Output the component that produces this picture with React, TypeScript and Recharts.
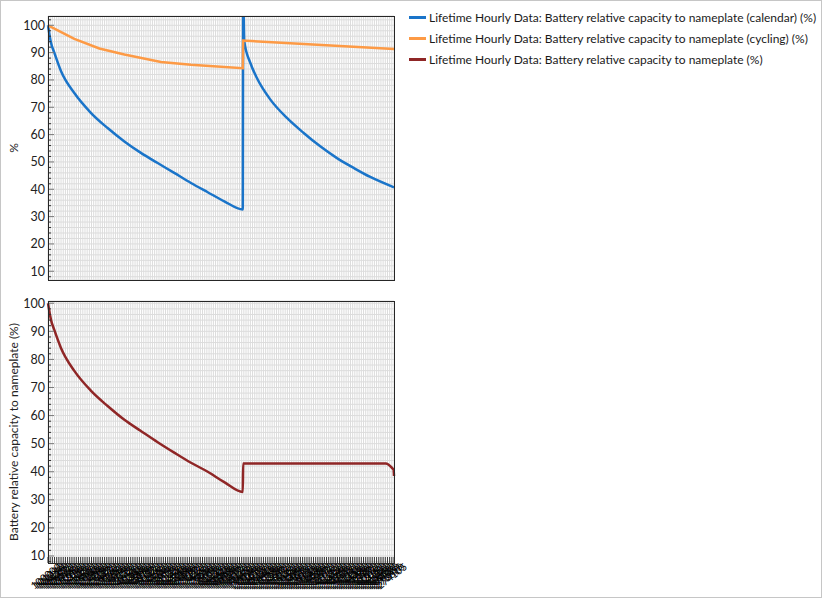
import { LineChart, Line, XAxis, YAxis, CartesianGrid, Label } from 'recharts';

// hour-step categories along the x axis (one grid line per step)
const STEPS = 160;
const hourLabels = Array.from({ length: STEPS }, (_, i) => String(100000 + i * 1095));
const hourTicks = hourLabels.map((_, i) => i);

// calendar ageing, % of nameplate
const calendarAt = [0, 1.4, 2.9, 6, 12.1, 19.8, 27.4, 35.1, 42.7, 50.4, 58, 65.7, 73.4, 81, 89.5, 89.7, 90.2, 93, 96, 102.2, 109.8, 117.5, 125.1, 132.8, 140.5, 148.1, 159];
const calendarPct = [100, 93.5, 90, 83.2, 75.2, 67.9, 62.4, 57.5, 53.3, 49.6, 46, 42.3, 38.9, 35.6, 32.6, 110, 94.1, 86.2, 80.7, 72.8, 66.1, 60.6, 55.7, 51.4, 47.8, 44.5, 40.7];

// cycling ageing, % of nameplate
const cyclingAt = [0, 12.1, 23.6, 35.1, 51.9, 65.7, 89.5, 89.7, 159];
const cyclingPct = [100, 95, 91.5, 89.3, 86.6, 85.6, 84.3, 94.4, 91.3];

// combined relative capacity, % of nameplate
const totalAt = [0, 1.4, 2.9, 6, 12.1, 19.8, 27.4, 35.1, 42.7, 50.4, 58, 65.7, 73.4, 81, 89.5, 89.7, 155.3, 158.4, 158.8, 159];
const totalPct = [100, 94, 90.5, 84, 75.9, 68.8, 63.4, 58.5, 54.5, 50.5, 46.8, 43.2, 40, 36.3, 32.8, 42.9, 42.9, 41.1, 40.8, 38.5];

const topTicks = [8, 10, 12, 14, 16, 18, 20, 22, 24, 26, 28, 30, 32, 34, 36, 38, 40, 42, 44, 46, 48, 50, 52, 54, 56, 58, 60, 62, 64, 66, 68, 70, 72, 74, 76, 78, 80, 82, 84, 86, 88, 90, 92, 94, 96, 98, 100, 102];
const bottomTicks = [8, 10, 12, 14, 16, 18, 20, 22, 24, 26, 28, 30, 32, 34, 36, 38, 40, 42, 44, 46, 48, 50, 52, 54, 56, 58, 60, 62, 64, 66, 68, 70, 72, 74, 76, 78, 80, 82, 84, 86, 88, 90, 92, 94, 96, 98, 100];

const series = [
  { name: 'Lifetime Hourly Data: Battery relative capacity to nameplate (calendar) (%)', color: '#1a74c9' },
  { name: 'Lifetime Hourly Data: Battery relative capacity to nameplate (cycling) (%)', color: '#fd9a45' },
  { name: 'Lifetime Hourly Data: Battery relative capacity to nameplate (%)', color: '#8f2626' },
];

const pairs = (at: number[], pct: number[]) => at.map((x, k) => ({ at: x, pct: pct[k] }));
const calendarData = pairs(calendarAt, calendarPct);
const cyclingData = pairs(cyclingAt, cyclingPct);
const totalData = pairs(totalAt, totalPct);

const FONT = 'Lato, "Noto Sans", sans-serif';
const GRID = '#dcdcdc';

function PctTick({ x, y, payload }: any) {
  const major = payload.value % 10 === 0;
  return (
    <g>
      <line x1={x} x2={x + (major ? 6 : 3)} y1={y} y2={y} stroke={major ? '#7a7a7a' : '#333'} />
      {major && (
        <text x={x - 3} y={y} dy="0.36em" textAnchor="end" fontSize={12.5} fontFamily={FONT} fill="#222">
          {payload.value}
        </text>
      )}
    </g>
  );
}

function HourTick({ x, y, payload }: any) {
  const ty = y + 16;
  return (
    <g>
      <line x1={x} x2={x} y1={y - 6} y2={y} stroke="#333" />
      <text x={x} y={ty} transform={`rotate(-38 ${x} ${ty})`} textAnchor="middle" fontSize={10} fontFamily={FONT} fill="#000">
        {hourLabels[payload.value]}
      </text>
    </g>
  );
}

const axisTitle = (text: string) => (props: any) => {
  const vb = props.viewBox;
  const cy = vb.y + vb.height / 2;
  return (
    <text x={12} y={cy} transform={`rotate(-90 12 ${cy})`} textAnchor="middle" dominantBaseline="central" fontSize={12} fontFamily={FONT} fill="#222">
      {text}
    </text>
  );
};

const frame = (left: number, top: number, width: number, height: number) => ({
  position: 'absolute' as const,
  left,
  top,
  width,
  height,
  boxSizing: 'border-box' as const,
  border: '1px solid #262626',
  pointerEvents: 'none' as const,
});

export default function App() {
  return (
    <div style={{ position: 'relative', width: 822, height: 598, boxSizing: 'border-box', border: '1px solid #c6c6c6', background: '#fff', overflow: 'hidden' }}>
      <style>{'body{margin:0}'}</style>

      <div style={{ position: 'absolute', left: 0, top: 0 }}>
        <LineChart width={400} height={290} margin={{ top: 15, right: 7, bottom: 11, left: 0 }}>
          <CartesianGrid stroke={GRID} />
          <XAxis type="number" dataKey="at" domain={[0, STEPS - 1]} ticks={hourTicks} interval={0} hide />
          <YAxis
            domain={[6.8, 103.4]}
            allowDataOverflow
            ticks={topTicks}
            interval={0}
            width={47}
            tickSize={0}
            tickMargin={0}
            axisLine={false}
            tickLine={false}
            tick={<PctTick />}
          >
            <Label content={axisTitle('%')} />
          </YAxis>
          <Line data={calendarData} dataKey="pct" type="monotone" stroke={series[0].color} strokeWidth={2.5} dot={false} isAnimationActive={false} />
          <Line data={cyclingData} dataKey="pct" type="linear" stroke={series[1].color} strokeWidth={2.5} dot={false} isAnimationActive={false} />
        </LineChart>
      </div>
      <div style={frame(47, 15, 347, 265)} />

      <div style={{ position: 'absolute', left: 0, top: 290 }}>
        <LineChart width={420} height={306} margin={{ top: 10, right: 27, bottom: 0, left: 0 }}>
          <CartesianGrid stroke={GRID} />
          <XAxis
            type="number"
            dataKey="at"
            domain={[0, STEPS - 1]}
            ticks={hourTicks}
            interval={0}
            height={34}
            tickSize={0}
            tickMargin={0}
            axisLine={false}
            tickLine={false}
            tick={<HourTick />}
          />
          <YAxis
            domain={[7.5, 100.8]}
            allowDataOverflow
            ticks={bottomTicks}
            interval={0}
            width={47}
            tickSize={0}
            tickMargin={0}
            axisLine={false}
            tickLine={false}
            tick={<PctTick />}
          >
            <Label content={axisTitle('Battery relative capacity to nameplate (%)')} />
          </YAxis>
          <Line data={totalData} dataKey="pct" type="monotone" stroke={series[2].color} strokeWidth={2.5} dot={false} isAnimationActive={false} />
        </LineChart>
      </div>
      <div style={frame(47, 300, 347, 263)} />

      <div style={{ position: 'absolute', left: 408, top: 6, fontFamily: FONT, fontSize: 12, color: '#1a1a1a' }}>
        {series.map((s) => (
          <div key={s.name} style={{ display: 'flex', alignItems: 'center', height: 21, whiteSpace: 'nowrap' }}>
            <span style={{ display: 'inline-block', width: 17, height: 3, background: s.color, marginRight: 3 }} />
            <span>{s.name}</span>
          </div>
        ))}
      </div>
    </div>
  );
}
